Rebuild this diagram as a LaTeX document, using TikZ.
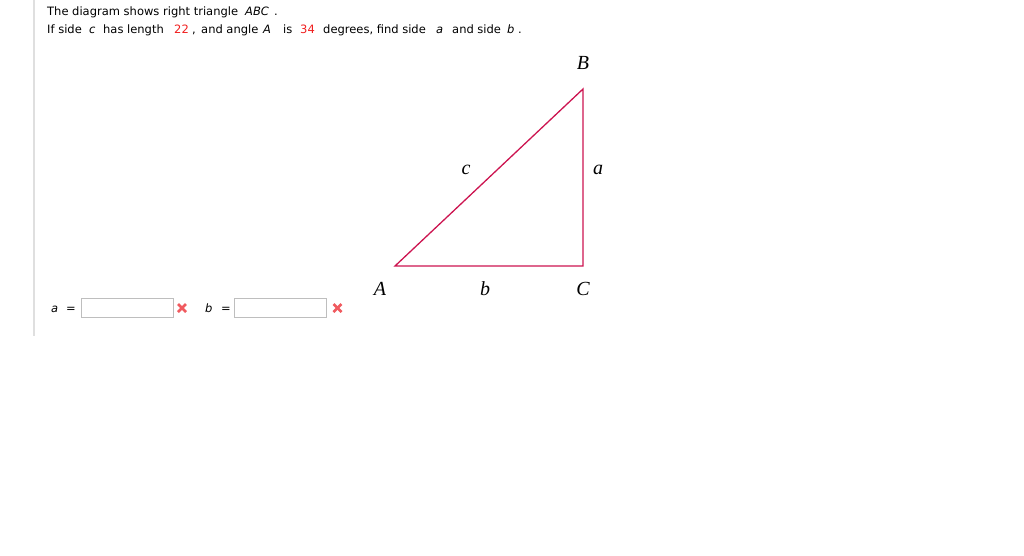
\documentclass[tikz,border=0pt]{standalone}
\usepackage{fontspec}
\setmainfont{DejaVu Sans}
\newfontfamily\serifit{Liberation Serif}[ItalicFont=* Italic]
\definecolor{tri}{RGB}{204,20,80}
\definecolor{num}{RGB}{240,30,30}
\definecolor{xmark}{RGB}{240,90,95}
\definecolor{boxc}{RGB}{190,190,190}
\begin{document}
\begin{tikzpicture}[x=1pt,y=-1pt,
  txt/.style={anchor=base west,inner sep=0pt,font=\fontsize{11.5}{13}\selectfont},
  red/.style={txt,text=num},
  lbl/.style={inner sep=0pt,font=\fontsize{20}{23}\selectfont\serifit\itshape},
  edge/.style={draw=tri,line width=1.3pt},
  inbox/.style={draw=boxc,line width=0.8pt,minimum width=92pt,minimum height=19pt,inner sep=0pt},
  xm/.style={xmark,line width=2.6pt}]
\useasboundingbox (0,0) rectangle (1024,555);
\draw[gray!25,line width=1.5pt] (34,0) -- (34,336);
% line 1
\node[txt] (t1) at (47,15) {The diagram shows right triangle};
\node[txt] (t2) at (245,15) {\textit{ABC}};
\node[txt] (t3) at (274,15) {.};
% line 2
\node[txt] (s1) at (47,33) {If side};
\node[txt] (s2) at (89,33) {\textit{c}};
\node[txt] (s3) at (103,33) {has length};
\node[red] (s4) at (174,33) {22};
\node[txt] (s5) at (192,33) {,};
\node[txt] (s6) at (201,33) {and angle};
\node[txt] (s7) at (263,33) {\textit{A}};
\node[txt] (s8) at (283,33) {is};
\node[red] (s9) at (300,33) {34};
\node[txt] (s10) at (323,33) {degrees, find side};
\node[txt] (s11) at (436,33) {\textit{a}};
\node[txt] (s12) at (452,33) {and side};
\node[txt] (s13) at (507,33) {\textit{b}};
\node[txt] (s14) at (518,33) {.};
% triangle
\coordinate (A) at (395,266);
\coordinate (B) at (583,89);
\coordinate (C) at (583,266);
\draw[edge] (A) -- (B) -- (C) -- cycle;
\node[lbl] (lB) at (583,63) {B};
\node[lbl] (lc) at (466,170) {c};
\node[lbl] (la) at (598,170) {a};
\node[lbl] (lA) at (380,289) {A};
\node[lbl] (lb) at (485,289) {b};
\node[lbl] (lC) at (583,289) {C};
% answer row
\node[txt] (ea) at (51,312) {\textit{a}};
\node[txt] (eqa) at (66,312) {=};
\node[txt] (eb) at (205,312) {\textit{b}};
\node[txt] (eqb) at (221,312) {=};
\node[inbox,anchor=west] (boxa) at (80.5,307.5) {};
\node[inbox,anchor=west] (boxb) at (233.5,307.5) {};
\coordinate (xa) at (182,308);
\coordinate (xb) at (337.5,308);
\draw[xm] ([shift={(-4,-4)}]xa) -- ([shift={(4,4)}]xa);
\draw[xm] ([shift={(-4,4)}]xa) -- ([shift={(4,-4)}]xa);
\draw[xm] ([shift={(-4,-4)}]xb) -- ([shift={(4,4)}]xb);
\draw[xm] ([shift={(-4,4)}]xb) -- ([shift={(4,-4)}]xb);
\end{tikzpicture}
\end{document}
